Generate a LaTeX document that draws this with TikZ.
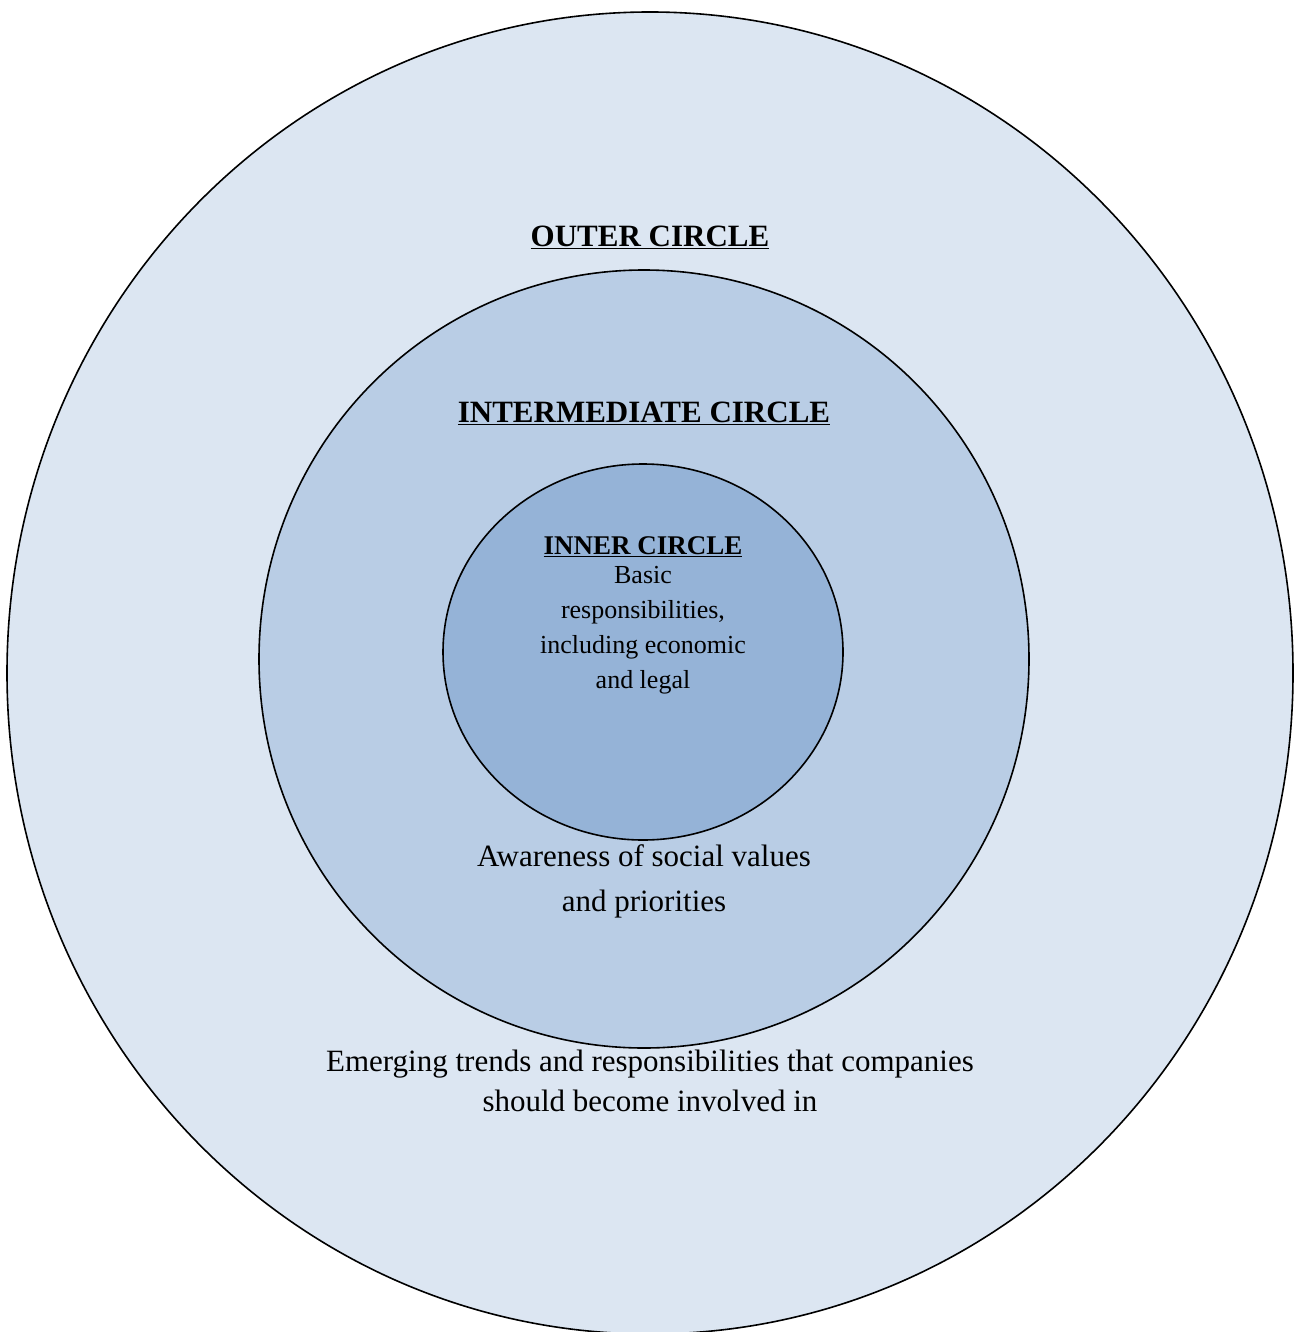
\documentclass[tikz,border=0pt]{standalone}
\usepackage{fontspec}
\setmainfont{Liberation Serif}
\definecolor{outerc}{HTML}{DCE6F2}
\definecolor{midc}{HTML}{B9CDE5}
\definecolor{innc}{HTML}{95B3D7}
\begin{document}
\begin{tikzpicture}[x=1pt,y=-1pt,
  ring/.style={draw=black,line width=1.6pt},
  title/.style={font=\fontsize{31}{36}\selectfont\bfseries,inner sep=0pt},
  body/.style={align=center,inner sep=0pt}]
\useasboundingbox (0,0) rectangle (1301,1332);
\begin{scope}
\clip (0,0) rectangle (1301,1332);
\fill[white] (0,0) rectangle (1301,1332);
\draw[ring,fill=outerc] (650,673) ellipse [x radius=643, y radius=661];
\draw[ring,fill=midc] (644,659) ellipse [x radius=385, y radius=389];
\draw[ring,fill=innc] (643,652) ellipse [x radius=200, y radius=188];
\end{scope}
\node[title] (ot) at (650,237) {\underline{OUTER CIRCLE}};
\node[title] (mt) at (644,413) {\underline{INTERMEDIATE CIRCLE}};
\node[title,font=\fontsize{27}{32}\selectfont\bfseries] (it) at (643,547) {\underline{INNER CIRCLE}};
\node[body,font=\fontsize{26}{35}\selectfont,anchor=north] (ib) at (643,566) {Basic\\responsibilities,\\including economic\\and legal};
\node[body,font=\fontsize{31}{45}\selectfont] (mb) at (644,881) {Awareness of social values\\and priorities};
\node[body,font=\fontsize{31}{40}\selectfont] (ob) at (650,1081) {Emerging trends and responsibilities that companies\\should become involved in};
\end{tikzpicture}
\end{document}
